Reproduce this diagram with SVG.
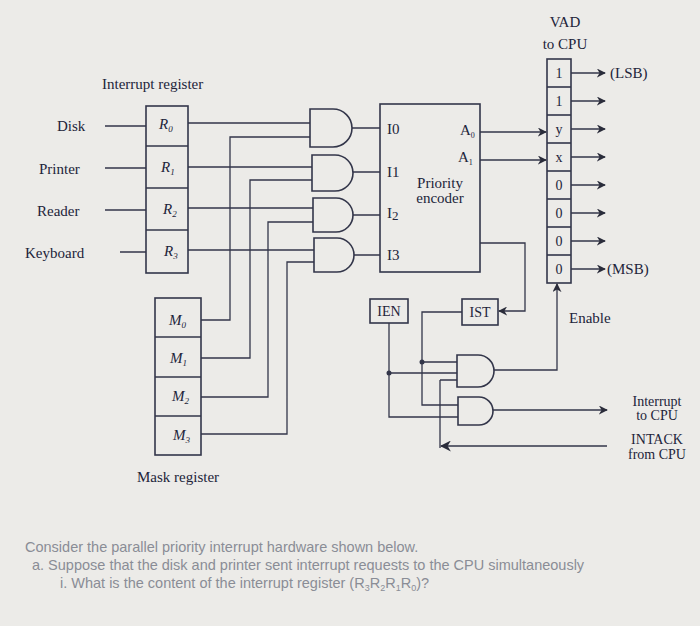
<svg xmlns="http://www.w3.org/2000/svg" width="700" height="626" viewBox="0 0 700 626">
<defs>
<marker id="ah" viewBox="0 0 10 10" refX="9" refY="5" markerWidth="9" markerHeight="9" orient="auto" markerUnits="userSpaceOnUse"><path d="M0,0 L10,5 L0,10 L3,5 z" fill="#2a2c3a"/></marker>
<marker id="ahs" viewBox="0 0 10 10" refX="9" refY="5" markerWidth="11" markerHeight="11" orient="auto" markerUnits="userSpaceOnUse"><path d="M0,0 L10,5 L0,10 L3,5 z" fill="#2a2c3a"/></marker>
</defs>
<style>
.b{fill:none;stroke:#33364a;stroke-width:1.6}
.w{fill:none;stroke:#33364a;stroke-width:1.3}
.a{fill:none;stroke:#33364a;stroke-width:1.3;marker-end:url(#ah)}
.t{font-family:"Liberation Serif",serif;font-size:15px;fill:#22243a}
.s{font-family:"Liberation Serif",serif;font-size:14px;fill:#22243a}
.i{font-family:"Liberation Serif",serif;font-style:italic;font-size:15px;fill:#22243a}
.q{font-family:"Liberation Sans",sans-serif;font-size:14.5px;fill:#8a8d96}
</style>
<rect width="700" height="626" fill="#ecebe8"/>
<g id="labels">
<text class="t" x="565" y="27" text-anchor="middle">VAD</text>
<text class="t" x="565" y="49" text-anchor="middle">to CPU</text>
<text class="t" x="102" y="89">Interrupt register</text>
<text class="t" x="57" y="131">Disk</text>
<text class="t" x="39" y="174">Printer</text>
<text class="t" x="37" y="216">Reader</text>
<text class="t" x="25" y="258">Keyboard</text>
<text class="t" x="137" y="482">Mask register</text>
<text class="t" x="610" y="78">(LSB)</text>
<text class="t" x="607" y="274">(MSB)</text>
<text class="t" x="569" y="323">Enable</text>
<text class="s" x="657" y="406" text-anchor="middle">Interrupt</text>
<text class="s" x="657" y="420" text-anchor="middle">to CPU</text>
<text class="s" x="657" y="444" text-anchor="middle">INTACK</text>
<text class="s" x="657" y="459" text-anchor="middle">from CPU</text>
</g>
<g id="interrupt-register">
<rect class="b" x="146" y="106" width="42" height="167"/>
<line class="b" x1="146" y1="146" x2="188" y2="146"/><line class="b" x1="146" y1="188" x2="188" y2="188"/><line class="b" x1="146" y1="230" x2="188" y2="230"/>
<text class="i" x="159" y="129">R<tspan font-size="9" dy="3">0</tspan></text>
<text class="i" x="161" y="172">R<tspan font-size="9" dy="3">1</tspan></text>
<text class="i" x="163" y="214">R<tspan font-size="9" dy="3">2</tspan></text>
<text class="i" x="164" y="256">R<tspan font-size="9" dy="3">3</tspan></text>
</g>
<g id="mask-register">
<rect class="b" x="155" y="298" width="46" height="157"/>
<line class="b" x1="155" y1="337" x2="201" y2="337"/><line class="b" x1="155" y1="377" x2="201" y2="377"/><line class="b" x1="155" y1="416" x2="201" y2="416"/>
<text class="i" x="169" y="325">M<tspan font-size="9" dy="3">0</tspan></text>
<text class="i" x="170" y="363">M<tspan font-size="9" dy="3">1</tspan></text>
<text class="i" x="172" y="401">M<tspan font-size="9" dy="3">2</tspan></text>
<text class="i" x="173" y="440">M<tspan font-size="9" dy="3">3</tspan></text>
</g>
<g id="and-gates">
<path class="b" d="M310,109 H333 A19,19 0 0 1 333,147 H310 Z"/>
<path class="b" d="M312,155 H335 A18,18 0 0 1 335,191 H312 Z"/>
<path class="b" d="M313,198 H336 A17,17 0 0 1 336,232 H313 Z"/>
<path class="b" d="M314,238 H337 A17,17 0 0 1 337,272 H314 Z"/>
</g>
<g id="priority-encoder">
<rect class="b" x="380" y="104" width="100" height="168"/>
<text class="t" x="387" y="134">I0</text>
<text class="t" x="387" y="177">I1</text>
<text class="t" x="387" y="218">I<tspan font-size="13" dy="2">2</tspan></text>
<text class="t" x="387" y="260">I3</text>
<text class="t" x="460" y="135">A<tspan font-size="8" dy="3">0</tspan></text>
<text class="t" x="458" y="162">A<tspan font-size="8" dy="3">1</tspan></text>
<text class="t" x="440" y="188" text-anchor="middle">Priority</text>
<text class="t" x="440" y="203" text-anchor="middle">encoder</text>
</g>
<g id="ien"><rect class="b" x="370" y="299" width="38" height="24"/><text class="s" x="389" y="316" text-anchor="middle">IEN</text></g>
<g id="ist"><rect class="b" x="462" y="299" width="36" height="26"/><text class="s" x="480" y="317" text-anchor="middle">IST</text></g>
<g id="control-gates">
<path class="b" d="M457,355 H478 A16,16 0 0 1 478,387 H457 Z"/>
<path class="b" d="M458,397 H479 A14,14 0 0 1 479,425 H458 Z"/>
</g>
<g id="vad">
<rect class="b" x="547" y="59" width="24" height="224"/>
<line class="b" x1="547" y1="87" x2="571" y2="87"/><line class="b" x1="547" y1="115" x2="571" y2="115"/><line class="b" x1="547" y1="143" x2="571" y2="143"/><line class="b" x1="547" y1="171" x2="571" y2="171"/><line class="b" x1="547" y1="199" x2="571" y2="199"/><line class="b" x1="547" y1="227" x2="571" y2="227"/><line class="b" x1="547" y1="255" x2="571" y2="255"/>
<text class="s" x="559" y="78" text-anchor="middle">1</text><text class="s" x="559" y="106" text-anchor="middle">1</text><text class="s" x="559" y="134" text-anchor="middle">y</text><text class="s" x="559" y="162" text-anchor="middle">x</text><text class="s" x="559" y="190" text-anchor="middle">0</text><text class="s" x="559" y="218" text-anchor="middle">0</text><text class="s" x="559" y="246" text-anchor="middle">0</text><text class="s" x="559" y="274" text-anchor="middle">0</text>
</g>
<g id="connectors">
<path class="w" d="M105,126 H146 M105,168 H146 M105,210 H146 M120,252 H146"/>
<path class="w" d="M188,123 H310 M188,167 H312 M188,208 H313 M188,250 H314"/>
<path class="w" d="M201,320 H230 V137 H310 M201,358 H250 V180 H312 M201,397 H268 V222 H313 M201,434 H287 V262 H314"/>
<path class="w" d="M352,128 H380 M353,172 H380 M353,215 H380 M354,255 H380"/>
<path class="a" d="M480,132 H546"/>
<path class="a" d="M480,160 H546"/>
<path class="a" d="M571,73 H605"/><path class="a" d="M571,101 H605"/><path class="a" d="M571,129 H605"/><path class="a" d="M571,157 H605"/><path class="a" d="M571,185 H605"/><path class="a" d="M571,213 H605"/><path class="a" d="M571,241 H605"/><path class="a" d="M571,269 H605"/>
<path class="a" d="M480,243 H525 V311 H499"/>
<path class="w" d="M462,312 H422 V405 H458 M422,362 H457"/>
<path class="w" d="M389,323 V417 H458 M389,373 H457"/>
<circle cx="422" cy="362" r="2.5" fill="#33364a"/><circle cx="389" cy="373" r="2.5" fill="#33364a"/>
<path class="w" d="M440,380 H457 M440,380 V448"/>
<path class="w" d="M607,446 H441" marker-end="url(#ahs)"/>
<path class="a" d="M494,370 H557 V284"/>
<path class="a" d="M493,410 H607"/>
</g>
<g id="question">
<text class="q" x="25" y="552">Consider the parallel priority interrupt hardware shown below.</text>
<text class="q" x="32" y="570">a. Suppose that the disk and printer sent interrupt requests to the CPU simultaneously</text>
<text class="q" x="60" y="588">i. What is the content of the interrupt register (R<tspan font-size="9" dy="3">3</tspan><tspan dy="-3">R</tspan><tspan font-size="9" dy="3">2</tspan><tspan dy="-3">R</tspan><tspan font-size="9" dy="3">1</tspan><tspan dy="-3">R</tspan><tspan font-size="9" dy="3">0</tspan><tspan dy="-3">)?</tspan></text>
</g>
</svg>
